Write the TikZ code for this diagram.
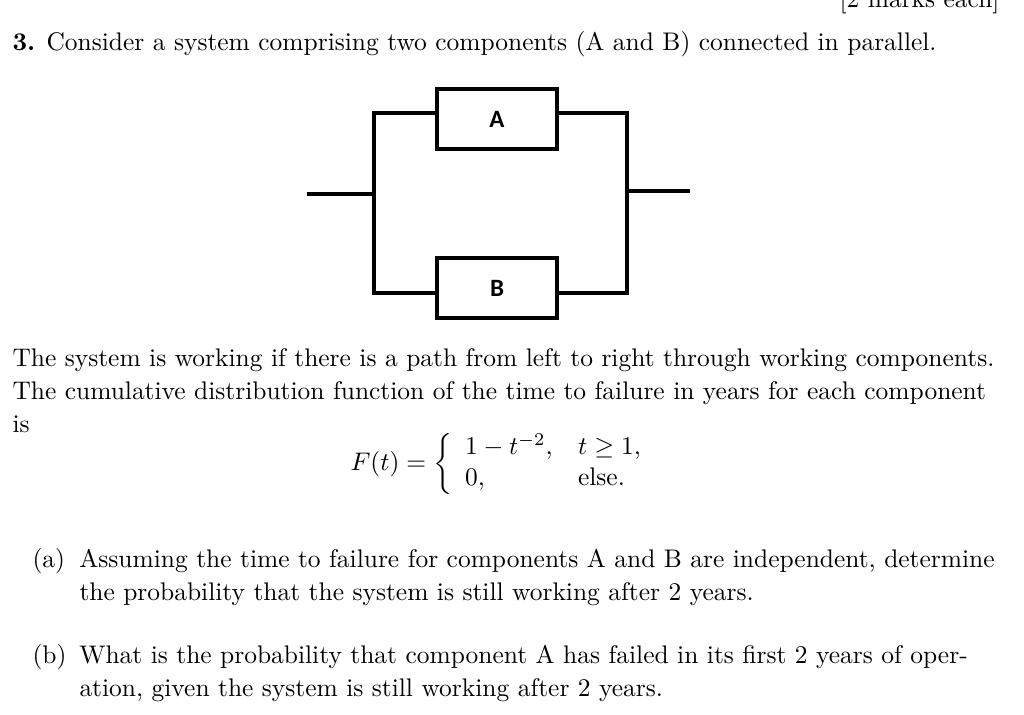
\documentclass[tikz,border=0pt]{standalone}
\usepackage{amsmath,amssymb}
\usepackage{fontspec}
\newfontfamily\carl{Carlito}
\begin{document}
\begin{tikzpicture}[x=1bp,y=-1bp,
  wire/.style={line width=3.5bp},
  txt/.style={anchor=base west,inner sep=0,font=\fontsize{10}{12}\selectfont,scale=2.555,transform shape},
  comp/.style={draw,line width=3.5bp,minimum width=120bp,minimum height=60bp,font=\carl\bfseries\fontsize{25}{25}\selectfont}]
\useasboundingbox (0,0) rectangle (1024,715);
\node[txt,anchor=base east] (marks) at (1000,8) {[2 marks each]};
\node[txt] (q) at (12,51) {\textbf{3.} Consider a system comprising two components (A and B) connected in parallel.};
\node[comp] (A) at (497,119) {A};
\node[comp] (B) at (497,288) {B};
\coordinate (lt) at (374,113); \coordinate (lb) at (374,293);
\coordinate (rt) at (627,113); \coordinate (rb) at (627,293);
\coordinate (lin) at (307,194); \coordinate (lj) at (374,194);
\coordinate (rout) at (690,191); \coordinate (rj) at (627,191);
\draw[wire] (A.west|-lt) -- (lt) -- (lb) -- (B.west|-lb);
\draw[wire] (A.east|-rt) -- (rt) -- (rb) -- (B.east|-rb);
\draw[wire] (lin) -- (lj);
\draw[wire] (rj) -- (rout);
\node[txt] (p1) at (12,366) {The system is working if there is a path from left to right through working components.};
\node[txt] (p2) at (12,399) {The cumulative distribution function of the time to failure in years for each component};
\node[txt] (p3) at (12,432) {is};
\node[txt] (F) at (350,470) {$F(t)=\left\{\begin{array}{ll}1-t^{-2}, & t\geq 1,\\ 0, & \text{else.}\end{array}\right.$};
\node[txt] (a1) at (32,567) {\makebox[18.4pt][l]{(a)}Assuming the time to failure for components A and B are independent, determine};
\node[txt] (a2) at (79,600) {the probability that the system is still working after 2 years.};
\node[txt] (b1) at (32,663) {\makebox[18.4pt][l]{(b)}What is the probability that component A has failed in its first 2 years of oper-};
\node[txt] (b2) at (79,696) {ation, given the system is still working after 2 years.};
\end{tikzpicture}
\end{document}
